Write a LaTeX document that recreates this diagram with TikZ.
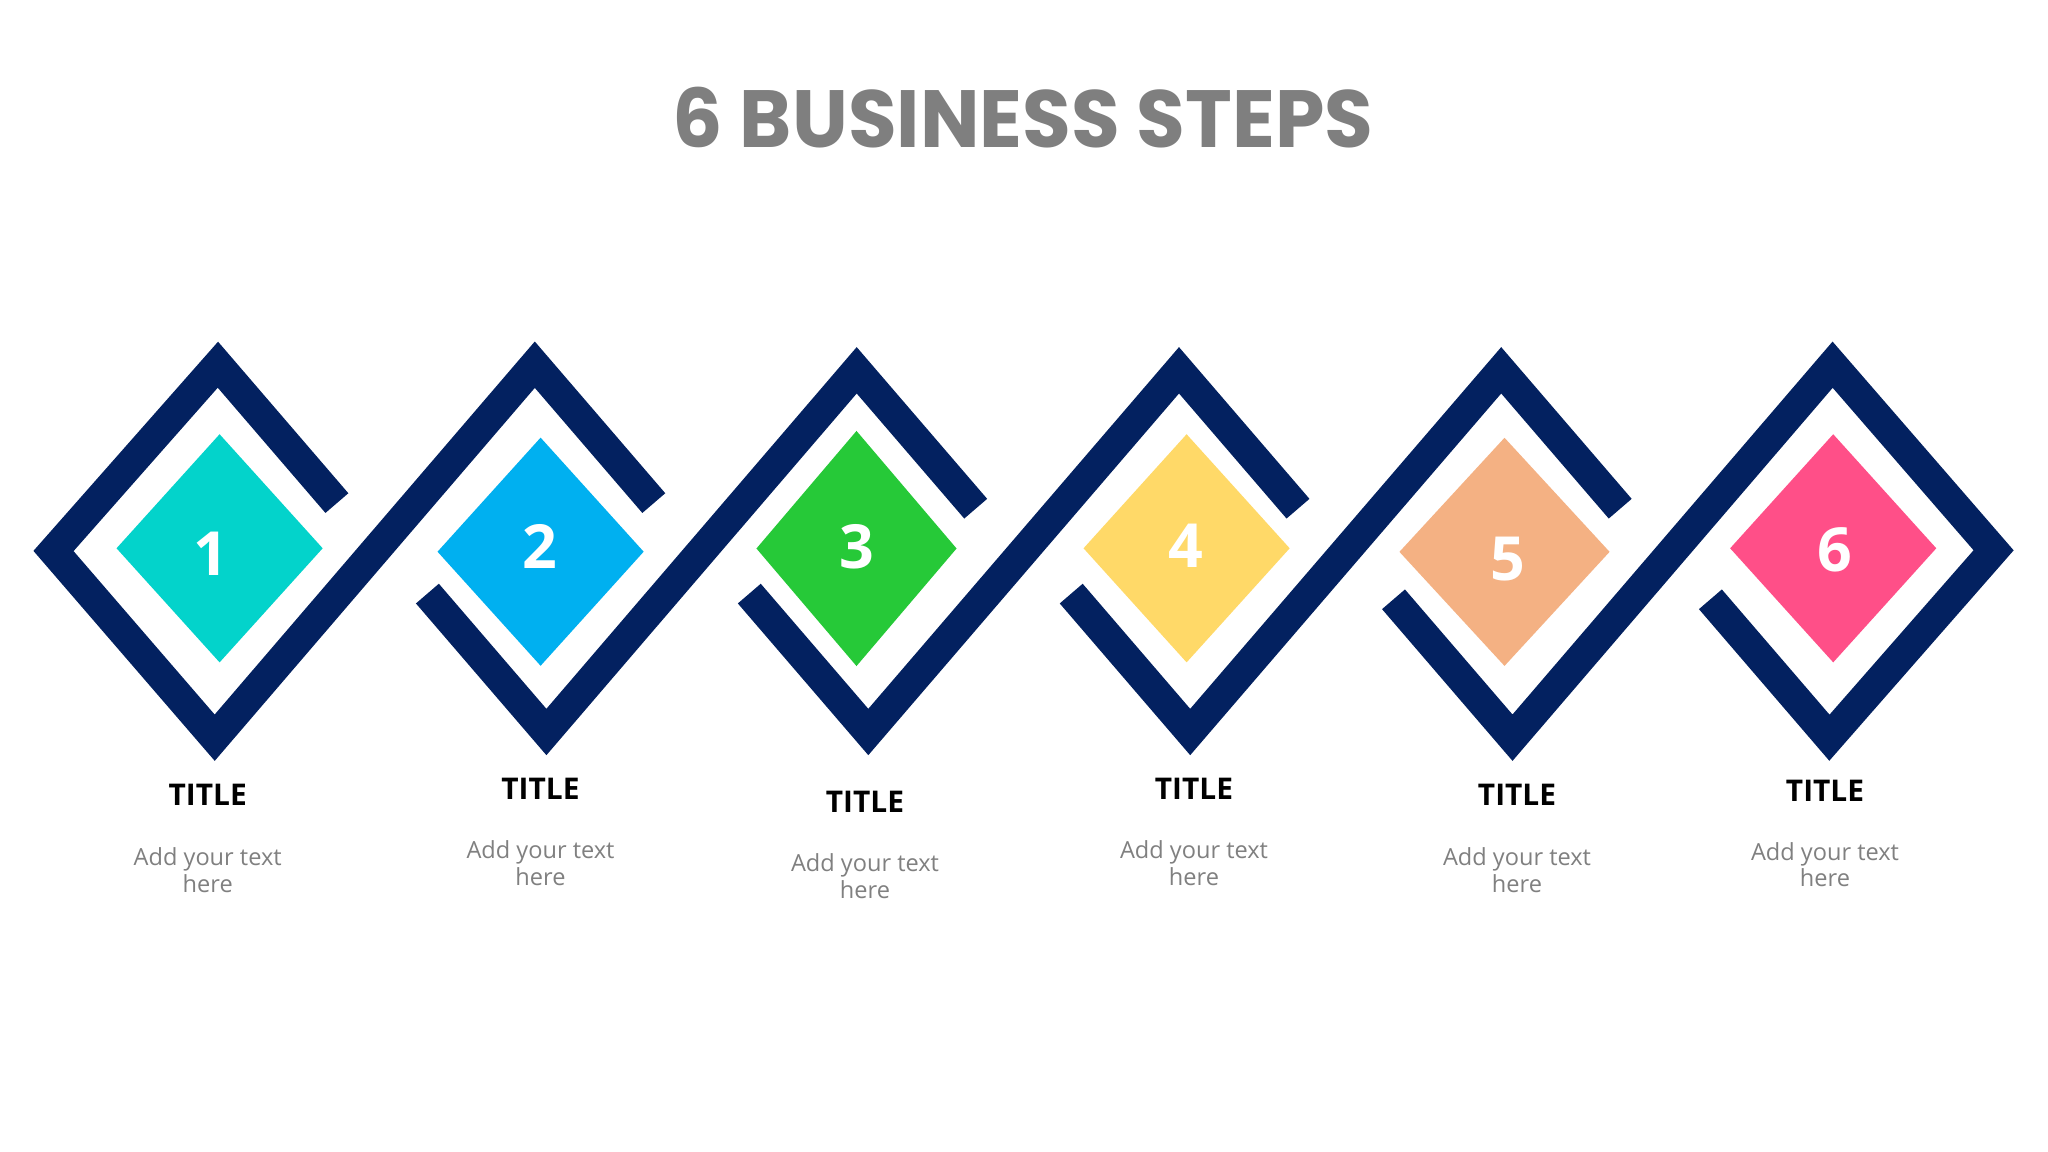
\documentclass[tikz,border=0pt]{standalone}
\usepackage{fontspec}
\usepackage{graphicx}
\usetikzlibrary{shapes.geometric}
\setmainfont{Open Sans}
\newfontfamily\titlefont{Poppins}
\definecolor{navy}{RGB}{3,33,96}
\definecolor{teal1}{RGB}{3,211,203}
\definecolor{blue1}{RGB}{0,176,240}
\definecolor{green1}{RGB}{38,201,56}
\definecolor{yellow1}{RGB}{255,217,104}
\definecolor{peach1}{RGB}{244,177,131}
\definecolor{pink1}{RGB}{255,79,136}
\definecolor{titlegray}{RGB}{127,127,127}
\definecolor{textgray}{RGB}{128,128,128}
\begin{document}
\begin{tikzpicture}[x=0.01cm,y=-0.01cm,
  frame/.style={draw=navy,line width=0.302cm,line join=miter,line cap=butt},
  gem/.style={shape=diamond,inner sep=0pt,outer sep=0pt,draw=none},
  num/.style={text=white,font=\fontsize{17.3}{20}\selectfont\bfseries,inner sep=0pt,outer sep=0pt},
  ttl/.style={font=\fontsize{8.5}{10}\selectfont\bfseries,text=black,inner sep=0pt,anchor=base},
  body/.style={font=\fontsize{6.7}{7.6}\selectfont,text=textgray,align=center,inner sep=0pt,anchor=base}]
\useasboundingbox[fill=white] (0,0) rectangle (2048,1152);

% title
\node[anchor=base,inner sep=0pt,text=titlegray] (head) at (1023,147.7)
  {\resizebox{7cm}{0.604cm}{\titlefont\bfseries 6 BUSINESS STEPS}};

% frame centreline vertices
\coordinate (L1) at (53.5,551);
\coordinate (T1) at (217.9,364.7);  \coordinate (B1) at (214.7,737.7);
\coordinate (T2) at (534.8,364.7);  \coordinate (B2) at (546.4,732);
\coordinate (T3) at (856.7,370.3);  \coordinate (B3) at (868.3,732);
\coordinate (T4) at (1179,370.3);   \coordinate (B4) at (1190.2,732);
\coordinate (T5) at (1501.2,370.3); \coordinate (B5) at (1512.5,737.7);
\coordinate (T6) at (1832.6,364.7); \coordinate (B6) at (1829.4,737.7);
\coordinate (R6) at (1993.6,550.3);
\coordinate (U1) at (336.9,503.1);  \coordinate (U2) at (653.8,503.1);
\coordinate (U3) at (975.7,508.7);  \coordinate (U4) at (1298,508.7);
\coordinate (U5) at (1620.2,508.7);
\coordinate (D2) at (427.4,593.6);  \coordinate (D3) at (749.3,593.6);
\coordinate (D4) at (1071.2,593.6); \coordinate (D5) at (1393.5,599.3);
\coordinate (D6) at (1710.4,599.3);

\draw[frame] (U1) -- (T1) -- (L1) -- (B1) -- (T2) -- (U2);
\draw[frame] (D2) -- (B2) -- (T3) -- (U3);
\draw[frame] (D3) -- (B3) -- (T4) -- (U4);
\draw[frame] (D4) -- (B4) -- (T5) -- (U5);
\draw[frame] (D5) -- (B5) -- (T6) -- (R6) -- (B6) -- (D6);

% coloured diamonds
\node[gem,fill=teal1,minimum width=2.06cm,minimum height=2.28cm] (g1) at (219.6,548.3) {};
\node[gem,fill=blue1,minimum width=2.06cm,minimum height=2.28cm] (g2) at (540.6,551.7) {};
\node[gem,fill=green1,minimum width=2.0cm,minimum height=2.35cm] (g3) at (856.5,548.5) {};
\node[gem,fill=yellow1,minimum width=2.06cm,minimum height=2.28cm] (g4) at (1186.6,548.3) {};
\node[gem,fill=peach1,minimum width=2.1cm,minimum height=2.28cm] (g5) at (1504.5,551.85) {};
\node[gem,fill=pink1,minimum width=2.06cm,minimum height=2.28cm] (g6) at (1833.2,548.3) {};

% numbers
\node[num] (n1) at (211,553.4) {1};
\node[num] (n2) at (539.4,546) {2};
\node[num] (n3) at (856.7,547.2) {3};
\node[num] (n4) at (1185.8,546) {4};
\node[num] (n5) at (1507.8,558.7) {5};
\node[num] (n6) at (1834.9,549.8) {6};

% titles
\node[ttl] (t1) at (207.7,805.7) {TITLE};
\node[ttl] (t2) at (540.5,799.3) {TITLE};
\node[ttl] (t3) at (865,812.3) {TITLE};
\node[ttl] (t4) at (1194,799.3) {TITLE};
\node[ttl] (t5) at (1517,805.7) {TITLE};
\node[ttl] (t6) at (1825,801.8) {TITLE};

% body text (anchor = baseline of the last line)
\node[body] (x1) at (207.7,892.6) {Add your text\\here};
\node[body] (x2) at (540.5,885.6) {Add your text\\here};
\node[body] (x3) at (865,898.6) {Add your text\\here};
\node[body] (x4) at (1194,885.6) {Add your text\\here};
\node[body] (x5) at (1517,892.6) {Add your text\\here};
\node[body] (x6) at (1825,886.9) {Add your text\\here};
\end{tikzpicture}
\end{document}
